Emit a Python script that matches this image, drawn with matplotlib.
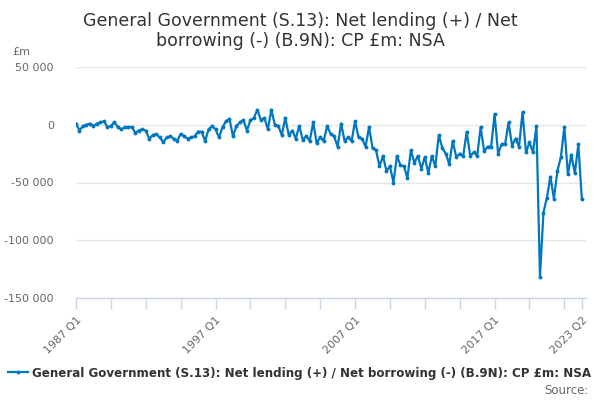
import matplotlib
matplotlib.use("Agg")
import matplotlib.pyplot as plt

# Quarterly values, 1987 Q1 .. 2023 Q2, in £m
values = [
    1000, -5000, -1000, 0, 1000, -1000, 1000, 2000, 3000, -2000,
    -1000, 2000, -2000, -4000, -2000, -2000, -2000, -7000, -5000, -4000,
    -5000, -12000, -9000, -8000, -11000, -15000, -11000, -10000, -12000, -14000,
    -8000, -10000, -12000, -11000, -10000, -6000, -6000, -14000, -4000, -1000,
    -4000, -11000, -2000, 3000, 5000, -10000, -1000, 2000, 4000, -5000,
    4000, 6000, 13000, 4000, 6000, -4000, 13000, 0, -1000, -9000,
    6000, -9000, -5000, -12000, -1000, -13000, -10000, -14000, 2000, -16000,
    -11000, -14000, -1000, -8000, -10000, -19000, 1000, -14000, -11000, -14000,
    3000, -11000, -12000, -19000, -2000, -20000, -22000, -36000, -27000, -40000,
    -36000, -50000, -27000, -35000, -36000, -46000, -22000, -33000, -27000, -38000,
    -28000, -42000, -27000, -36000, -9000, -20000, -25000, -34000, -14000, -28000,
    -25000, -27000, -6000, -27000, -24000, -27000, -2000, -23000, -19000, -19000,
    9000, -25000, -17000, -17000, 2000, -18000, -12000, -19000, 11000, -24000,
    -15000, -24000, -1000, -132000, -76000, -63000, -45000, -64000, -40000, -28000,
    -2000, -43000, -26000, -42000, -17000, -64000,
]

start_year = 1987
quarters = [f"{start_year + i // 4} Q{i % 4 + 1}" for i in range(len(values))]
label_quarters = ["1987 Q1", "1997 Q1", "2007 Q1", "2017 Q1", "2023 Q2"]
y_ticks = [50000, 0, -50000, -100000, -150000]
y_tick_labels = ["50 000", "0", "-50 000", "-100 000", "-150 000"]

title = "General Government (S.13): Net lending (+) / Net\nborrowing (-) (B.9N): CP £m: NSA"
series_name = "General Government (S.13): Net lending (+) / Net borrowing (-) (B.9N): CP £m: NSA"

color = "#0077c0"
text_dark = "#333333"
text_grey = "#666666"

plt.rcParams['font.family'] = ['DejaVu Sans']
fig = plt.figure(figsize=(6, 4), dpi=100)
ax = fig.add_axes([76 / 600, 1 - 298 / 400, (586 - 76) / 600, (298 - 67) / 400])

x = list(range(len(values)))
line, = ax.plot(x, values, color=color, lw=1.6, marker='o', markersize=2.8,
                markeredgewidth=0, label=series_name, zorder=3)

ax.set_xlim(0, len(values) - 1 + 1.2)
ax.set_ylim(-150000, 50000)

ax.set_yticks(y_ticks)
ax.set_yticklabels(y_tick_labels)
ax.grid(axis='y', color='#e6e6e6', lw=1)
ax.set_axisbelow(True)

tick_pos = list(range(0, len(values), 10)) + [len(values) - 1]
tick_labels = [quarters[p] if quarters[p] in label_quarters else "" for p in tick_pos]
ax.set_xticks(tick_pos)
ax.set_xticklabels(tick_labels, rotation=45, ha='right', rotation_mode='anchor')

for s in ['top', 'right', 'left']:
    ax.spines[s].set_visible(False)
ax.spines['bottom'].set_color('#ccd6eb')
ax.spines['bottom'].set_linewidth(1)
ax.tick_params(axis='x', colors='#ccd6eb', length=8, width=1, labelcolor=text_grey,
               labelsize=8, pad=4)
ax.tick_params(axis='y', length=0, labelcolor=text_grey, labelsize=8, pad=16)

fig.text(0.5, 1 - 31 / 400, title, ha='center', va='center', fontsize=12.5,
         color=text_dark, linespacing=1.15)
fig.text(12 / 600, 1 - 52 / 400, "£m", ha='left', va='center', fontsize=8, color=text_grey)

leg = fig.legend(handles=[line], loc='center', bbox_to_anchor=(0.5, 1 - 373 / 400),
                 frameon=False, handlelength=1.6, handletextpad=0.4,
                 borderaxespad=0, borderpad=0,
                 prop={'weight': 'bold', 'size': 8.6})
for t in leg.get_texts():
    t.set_color(text_dark)

fig.text(589 / 600, 1 - 390 / 400, "Source:", ha='right', va='center', fontsize=8.5,
         color=text_grey)

fig.savefig("out.png", dpi=100)
